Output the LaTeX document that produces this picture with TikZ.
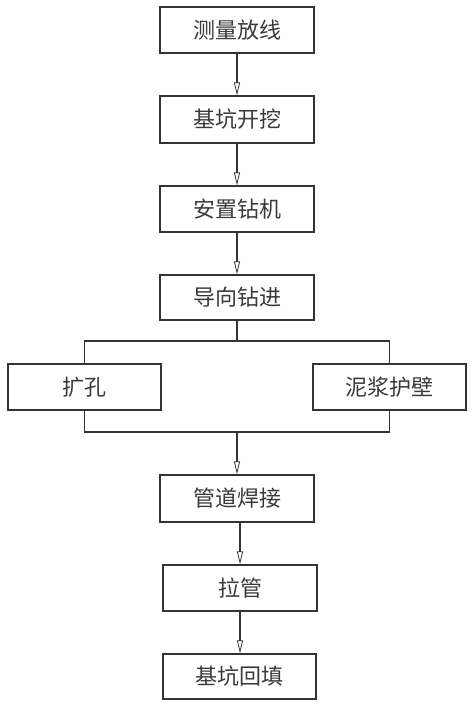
\documentclass[tikz,border=0pt]{standalone}
\usepackage{fontspec}
\newfontfamily\cjk{Noto Sans CJK SC}
\usetikzlibrary{arrows.meta}
\definecolor{ln}{HTML}{333333}
\definecolor{tx}{HTML}{3A3A3A}
\begin{document}
\begin{tikzpicture}[x=1pt,y=-1pt,
  box/.style={draw=ln, line width=1.2pt, rectangle, inner sep=0pt, minimum height=46pt,
    font=\cjk\fontsize{22}{26}\selectfont, text=tx},
  mainbox/.style={box, minimum width=154pt},
  sidebox/.style={box, minimum width=153pt},
  arr/.style={draw=ln, line width=1.2pt, -{Triangle[open, length=13pt, width=6pt, line width=0.8pt]}},
  ln/.style={draw=ln, line width=1.2pt}]
\useasboundingbox (0,0) rectangle (474,706);
\fill[white] (0,0) rectangle (474,706);
\node[mainbox] (b1) at (237,30) {测量放线};
\node[mainbox, minimum height=47pt] (b2) at (237,119.5) {基坑开挖};
\node[mainbox] (b3) at (237,209) {安置钻机};
\node[mainbox, minimum height=45pt] (b4) at (237,297.5) {导向钻进};
\node[sidebox] (L) at (84.5,387) {扩孔};
\node[sidebox] (R) at (389.5,387) {泥浆护壁};
\node[mainbox, minimum height=47pt] (b5) at (237,498.5) {管道焊接};
\node[mainbox] (b6) at (240,588) {拉管};
\node[sidebox, minimum height=45pt] (b7) at (239.5,676.5) {基坑回填};
\coordinate (split) at (237,341);
\coordinate (join) at (237,432);
\draw[arr] (b1.south) -- (b2.north);
\draw[arr] (b2.south) -- (b3.north);
\draw[arr] (b3.south) -- (b4.north);
\draw[ln] (b4.south) -- (split);
\draw[ln] (L.north) -- (L.north |- split) -- (R.north |- split) -- (R.north);
\draw[ln] (L.south) -- (L.south |- join) -- (R.south |- join) -- (R.south);
\draw[arr] (join) -- (b5.north);
\draw[arr] (b6.north |- b5.south) -- (b6.north);
\draw[arr] (b6.south -| b6.north) -- (b7.north -| b6.north);
\end{tikzpicture}
\end{document}
